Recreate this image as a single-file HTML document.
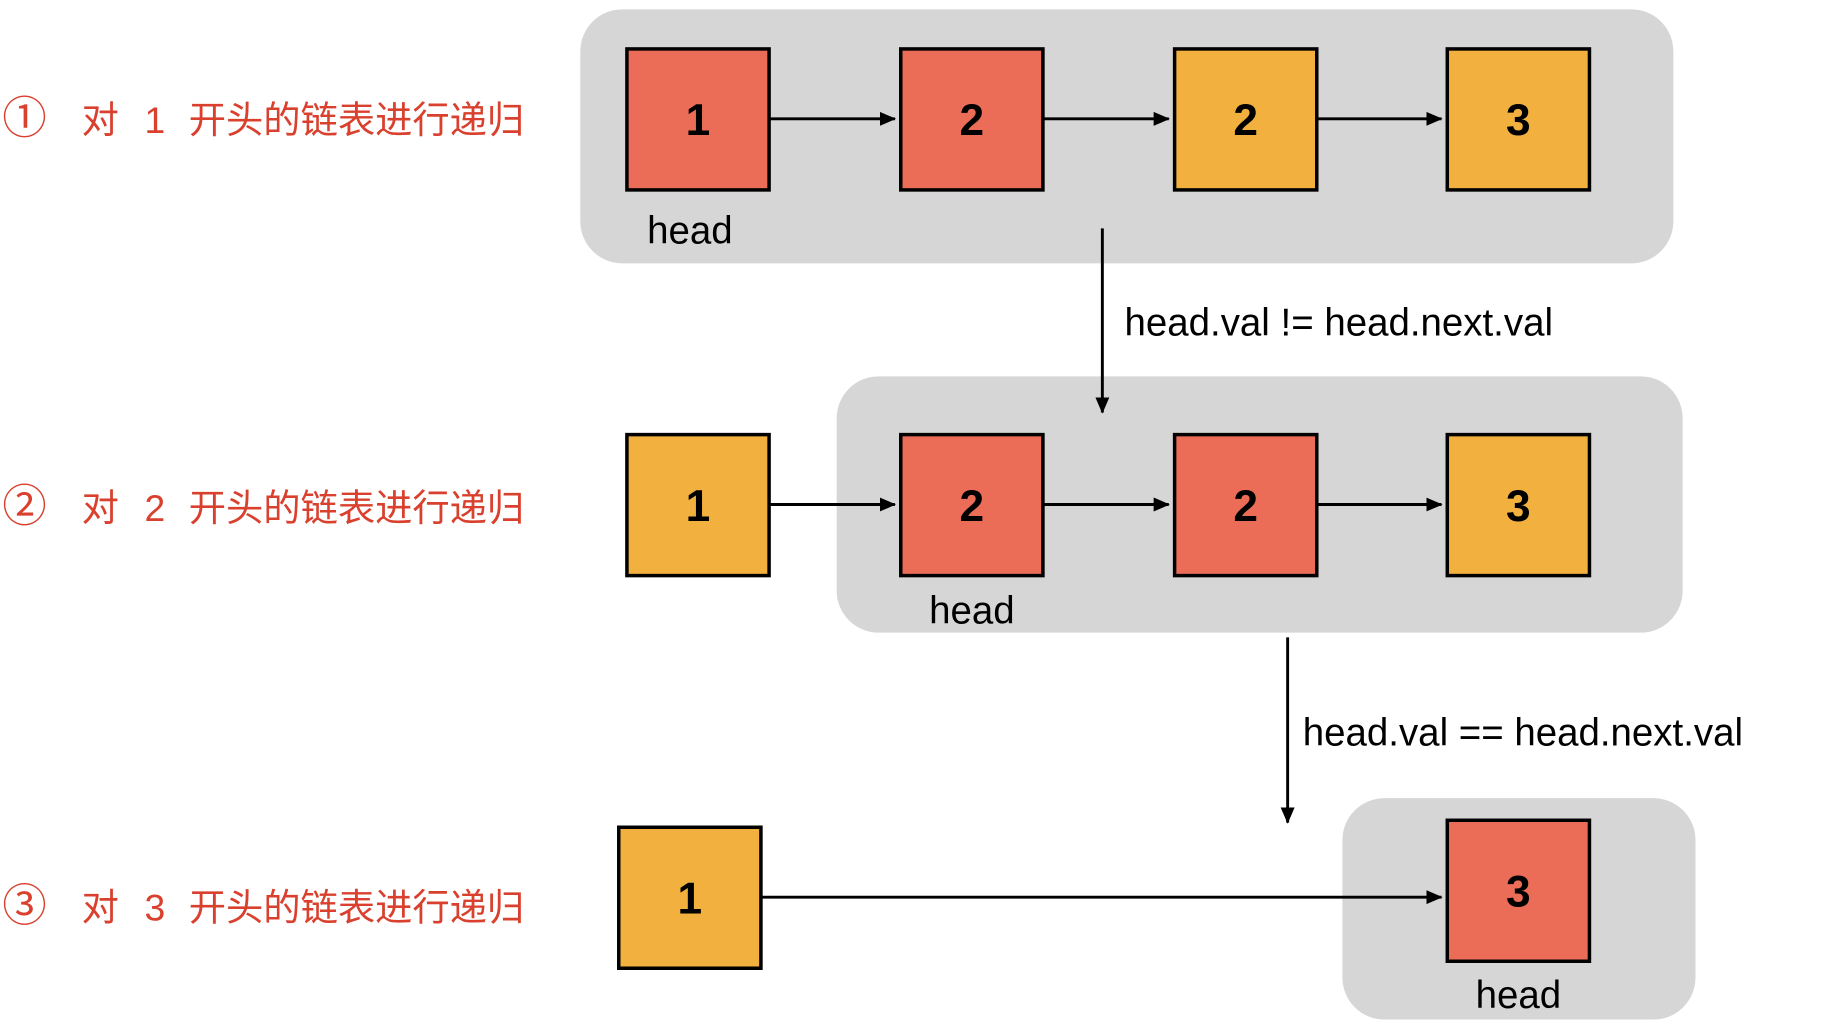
<!DOCTYPE html>
<html><head><meta charset="utf-8"><style>
html,body{margin:0;padding:0;background:#fff;}
svg{display:block;}
</style></head><body>
<svg width="1826" height="1030" viewBox="0 0 1567 884" preserveAspectRatio="none" xmlns="http://www.w3.org/2000/svg">
<defs><marker id="a" markerWidth="14" markerHeight="12" refX="13" refY="6" orient="auto" markerUnits="userSpaceOnUse"><path d="M0,0 L14,6 L0,12 z" fill="#000"/></marker></defs>
<g fill="#D6D6D6">
<rect x="498" y="8" width="938" height="218" rx="36"/>
<rect x="718" y="323" width="726" height="220" rx="36"/>
<rect x="1152" y="685" width="303" height="190" rx="36"/>
</g>
<g stroke="#000" stroke-width="3">
<rect x="538" y="42" width="122" height="121" fill="#EC6D57"/>
<rect x="773" y="42" width="122" height="121" fill="#EC6D57"/>
<rect x="1008" y="42" width="122" height="121" fill="#F2B13E"/>
<rect x="1242" y="42" width="122" height="121" fill="#F2B13E"/>
<rect x="538" y="373" width="122" height="121" fill="#F2B13E"/>
<rect x="773" y="373" width="122" height="121" fill="#EC6D57"/>
<rect x="1008" y="373" width="122" height="121" fill="#EC6D57"/>
<rect x="1242" y="373" width="122" height="121" fill="#F2B13E"/>
<rect x="531" y="710" width="122" height="121" fill="#F2B13E"/>
<rect x="1242" y="704" width="122" height="121" fill="#EC6D57"/>
</g>
<g stroke="#000" stroke-width="2.5" marker-end="url(#a)">
<line x1="661" y1="102" x2="768" y2="102"/>
<line x1="896" y1="102" x2="1003" y2="102"/>
<line x1="1131" y1="102" x2="1237" y2="102"/>
<line x1="661" y1="433" x2="768" y2="433"/>
<line x1="896" y1="433" x2="1003" y2="433"/>
<line x1="1131" y1="433" x2="1237" y2="433"/>
<line x1="654" y1="770" x2="1237" y2="770"/>
<line x1="946" y1="196" x2="946" y2="354"/>
<line x1="1105" y1="547" x2="1105" y2="706"/>
</g>
<g font-family="Liberation Sans, sans-serif" font-weight="bold" font-size="38" text-anchor="middle">
<text x="599" y="116">1</text><text x="834" y="116">2</text><text x="1069" y="116">2</text><text x="1303" y="116">3</text>
<text x="599" y="447">1</text><text x="834" y="447">2</text><text x="1069" y="447">2</text><text x="1303" y="447">3</text>
<text x="592" y="784">1</text><text x="1303" y="778">3</text>
</g>
<g font-family="Liberation Sans, sans-serif" font-size="33" fill="#000">
<text x="592" y="209" text-anchor="middle">head</text>
<text x="834" y="535" text-anchor="middle">head</text>
<text x="1303" y="865" text-anchor="middle">head</text>
<text x="965" y="288">head.val != head.next.val</text>
<text x="1118" y="640">head.val == head.next.val</text>
</g>
<g font-family="Liberation Sans, 'Noto Sans CJK SC', sans-serif" font-size="32" fill="#D9402E">
<text x="2" y="114" font-size="38">①</text><text x="70" y="114">对</text><text x="124" y="114">1</text><text x="162" y="114">开头的链表进行递归</text>
<text x="2" y="447" font-size="38">②</text><text x="70" y="447">对</text><text x="124" y="447">2</text><text x="162" y="447">开头的链表进行递归</text>
<text x="2" y="790" font-size="38">③</text><text x="70" y="790">对</text><text x="124" y="790">3</text><text x="162" y="790">开头的链表进行递归</text>
</g>
</svg>
</body></html>
